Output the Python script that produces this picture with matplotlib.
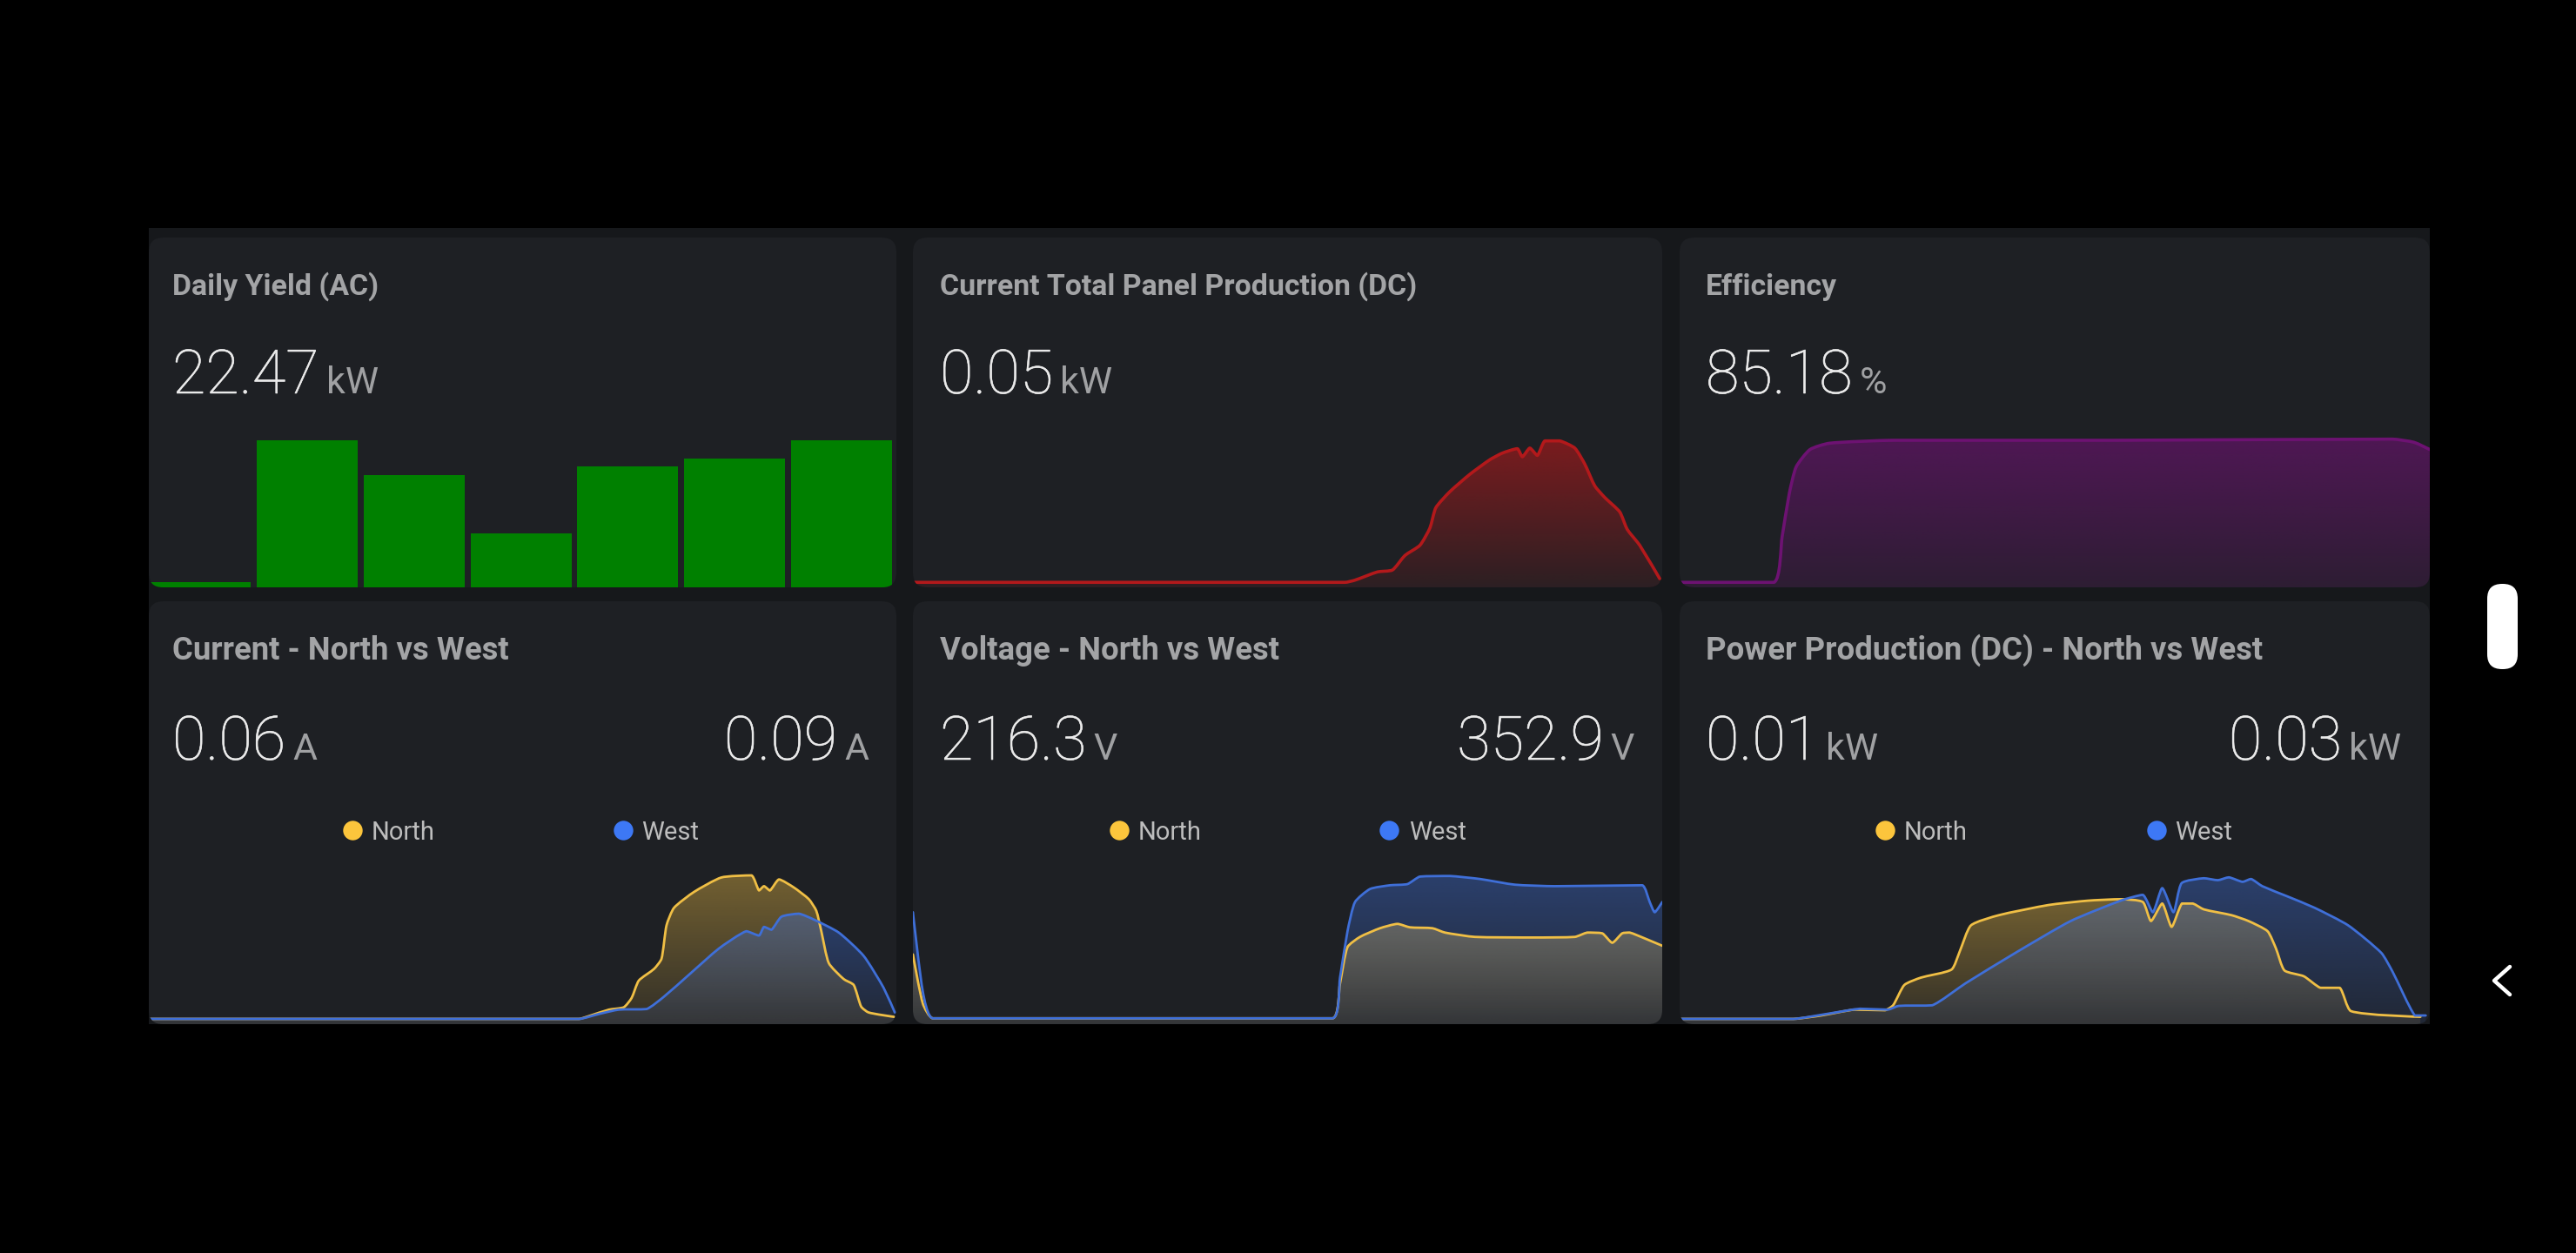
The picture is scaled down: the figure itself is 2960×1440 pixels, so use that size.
import matplotlib
matplotlib.use("Agg")
import matplotlib.pyplot as plt
import matplotlib.patheffects as pe
import numpy as np
from matplotlib.colors import to_rgb
from matplotlib.patches import FancyBboxPatch, PathPatch, Rectangle
from matplotlib.path import Path

plt.rcParams['font.family'] = ['Roboto', 'DejaVu Sans']

W, H = 2960, 1440

# daily yield, kWh per day
yield_days = [0, 1, 2, 3, 4, 5, 6]
yield_vals = [0.75, 22.47, 17.15, 8.29, 18.53, 19.72, 22.47]

# the rest: hour of the window, percent of the panel height
dc_h = [0, 13.84, 14.16, 14.88, 15.36, 15.76, 16.24, 16.56, 16.75, 17.2, 17.84, 18.48, 18.88, 19.36,
        19.52, 19.76, 20.0, 20.24, 20.72, 21.2, 21.52, 21.84, 22.16, 22.64, 22.88, 23.28, 23.92]
dc_v = [3.4, 3.4, 4.9, 10.5, 11.8, 21.7, 28.6, 40.4, 54.2, 65.1, 76.9, 86.8, 91.3, 94.3,
        88.8, 94.7, 89.7, 99.6, 99.6, 94.7, 83.8, 69.0, 61.1, 51.3, 39.4, 28.6, 5.9]

eff_h = [0, 3.02, 3.28, 3.51, 3.73, 4.17, 4.79, 6.83, 13.9, 22.8, 23.5, 24]
eff_v = [3.4, 3.4, 34.5, 64, 82, 93.7, 98, 100, 100, 100.8, 98.6, 93.7]

cur_n_h = [0, 13.81, 14.13, 14.77, 15.25, 15.5, 15.73, 16.22, 16.46, 16.62, 16.86, 17.5, 18.38, 19.35,
           19.59, 19.75, 19.94, 20.23, 20.71, 21.19, 21.43, 21.59, 21.83, 22.31, 22.63, 22.87, 23.11, 23.92]
cur_n_v = [3.5, 3.5, 5.4, 9.7, 11.3, 17.5, 29.1, 36.9, 43.7, 66, 77.7, 88.3, 98, 99.4,
           89.3, 92.2, 89.3, 96.7, 91.3, 83.5, 75.7, 62.1, 40.8, 30.1, 26.2, 11.7, 7.8, 4.9]
cur_w_h = [0, 13.81, 14.45, 15.09, 15.98, 16.54, 17.34, 18.3, 19.18, 19.59, 19.75, 19.99, 20.31, 20.87,
           21.35, 22.15, 22.95, 23.59, 23.95]
cur_w_v = [3.5, 3.5, 6.8, 9.7, 10.1, 18.4, 33, 50.5, 62.1, 59.2, 65, 63.1, 71.8, 73.8,
           69.9, 61.2, 45.6, 24.3, 7.8]

volt_n_h = [0, 0.32, 0.64, 13.44, 13.68, 13.92, 14.32, 14.96, 15.52, 15.92, 16.64, 17.04, 18, 19.92,
            21.2, 21.6, 22.08, 22.4, 22.72, 22.96, 23.44, 24]
volt_n_v = [46.6, 13.6, 3.9, 3.9, 27.2, 51.5, 58.3, 64.1, 67, 64.7, 64.1, 61.2, 58.3, 57.9,
            58.3, 61.2, 60.7, 54.4, 60.7, 61.2, 57.3, 52.4]
volt_w_h = [0, 0.32, 0.64, 13.44, 13.68, 13.92, 14.16, 14.64, 15.28, 15.84, 16.24, 17.2, 18.16, 19.28,
            20.56, 23.36, 23.6, 23.76, 24]
volt_w_v = [74.8, 21.4, 3.9, 3.9, 31.1, 62.1, 81.6, 90.3, 92.8, 93.6, 98.6, 99, 97, 93.2,
            92.2, 92.8, 81.6, 74.8, 81.6]

pow_n_h = [0, 3.64, 4.53, 5.59, 6.57, 6.83, 7.19, 7.72, 8.7, 8.96, 9.32, 10.21, 11.8, 13.05, 14.11,
           14.82, 15.08, 15.44, 15.74, 16.07, 16.42, 16.77, 17.66, 18.2, 18.81, 19.08, 19.35, 19.97,
           20.5, 21.12, 21.48, 23.7]
pow_n_v = [3.5, 3.5, 5.8, 9.7, 9.3, 12.6, 26.2, 31.1, 36.5, 48.5, 66, 72.8, 79.6, 82.5, 83.5,
           81.6, 68.9, 80.6, 65, 80.6, 80.6, 76.7, 72.8, 68.9, 62.1, 50.5, 35.9, 32,
           24.3, 24.3, 8.7, 4.9]
pow_w_h = [0, 3.64, 4.7, 5.77, 6.66, 7.01, 8.08, 9.14, 10.74, 12.51, 14.11, 14.82, 15.14, 15.44,
           15.8, 16.06, 16.77, 17.22, 17.57, 18.01, 18.28, 18.64, 19.44, 20.32, 21.39, 22.45, 22.81,
           23.52, 23.87]
pow_w_v = [3.5, 3.5, 6.8, 10.3, 9.7, 12.2, 12.6, 27.2, 47.6, 68.9, 82.5, 86.4, 74.8, 90.9,
           74.8, 94.2, 97.5, 96.2, 98.1, 95.1, 97, 92.2, 85.4, 77.7, 66, 47.6, 35,
           5.8, 5.8]

BG = '#000000'
PANEL = '#16181b'
CARD = '#1e2024'
TITLE = '#a3a4a6'
VALUE = '#eaeaea'
UNIT = '#a0a1a3'
GREEN = '#008000'
RED = '#b3191b'
PURPLE = '#6d1272'
NORTH = '#f0bf45'
WEST = '#3f6fd8'

COLS = [(171, 1030), (1049, 1910), (1930, 2792)]
ROWS = [(273, 675), (691, 1177)]
TOP_100 = [506, 1005]   # pixel height of the 100% level in each row

fig = plt.figure(figsize=(W / 100, H / 100), dpi=100, facecolor=BG)
back = fig.add_axes([0, 0, 1, 1], zorder=0)
front = fig.add_axes([0, 0, 1, 1], zorder=5)
for a in (back, front):
    a.set_xlim(0, W)
    a.set_ylim(H, 0)
    a.axis('off')
front.patch.set_alpha(0)

back.add_patch(Rectangle((171, 262), 2792 - 171, 1177 - 262, color=PANEL, lw=0))


def chart_axes(col, row, xlim, top):
    x0, x1 = COLS[col]
    y1 = ROWS[row][1]
    px_h = (y1 - TOP_100[row]) * 1.15
    ax = fig.add_axes([x0 / W, (H - y1) / H, (x1 - x0) / W, px_h / H], zorder=2)
    ax.set_xlim(*xlim)
    ax.set_ylim(0, top * 1.15)
    ax.axis('off')
    return ax


def curve(x, y, tension=0.2):
    # bezier through the read points, like the tension option of the original line charts
    p = np.column_stack([x, y])
    n = len(p)
    verts = [tuple(p[0])]
    codes = [Path.MOVETO]
    tang = np.zeros((n, 2))
    after = np.zeros(n)
    before = np.zeros(n)
    sc = np.array([21, 1])
    for i in range(1, n - 1):
        d0 = np.hypot(*((p[i] - p[i - 1]) * sc))
        d1 = np.hypot(*((p[i + 1] - p[i]) * sc))
        tang[i] = p[i + 1] - p[i - 1]
        before[i] = tension * d0 / (d0 + d1)
        after[i] = tension * d1 / (d0 + d1)
    for i in range(n - 1):
        lo, hi = sorted((p[i, 1], p[i + 1, 1]))
        c1 = p[i] + after[i] * tang[i]
        c2 = p[i + 1] - before[i + 1] * tang[i + 1]
        c1[1] = np.clip(c1[1], lo, hi)
        c2[1] = np.clip(c2[1], lo, hi)
        verts += [tuple(c1), tuple(c2), tuple(p[i + 1])]
        codes += [Path.CURVE4] * 3
    return verts, codes


def gradient_fill(ax, x, y, color, a_top, a_bot, z):
    n = 128
    img = np.zeros((n, 2, 4))
    img[..., :3] = to_rgb(color)
    img[..., 3] = np.linspace(a_top, a_bot, n)[:, None]
    xlim, ylim = ax.get_xlim(), ax.get_ylim()
    im = ax.imshow(img, extent=[min(x), max(x), 0, max(y)], aspect='auto', origin='upper', zorder=z)
    verts, codes = curve(x, y)
    verts = [(x[0], 0), (x[0], y[0])] + verts[1:] + [(x[-1], 0), (x[0], 0)]
    codes = [Path.MOVETO, Path.LINETO] + codes[1:] + [Path.LINETO, Path.CLOSEPOLY]
    im.set_clip_path(Path(verts, codes), ax.transData)
    ax.set_xlim(xlim)
    ax.set_ylim(ylim)


def series(ax, x, y, color, a_top=0.4, a_bot=0.1, z=2, lw=2.0):
    gradient_fill(ax, x, y, color, a_top, a_bot, z)
    verts, codes = curve(x, y)
    ax.add_patch(PathPatch(Path(verts, codes), fill=False, ec=color, lw=lw, zorder=z + 3,
                           joinstyle='round', capstyle='round'))


def value_left(x, y, val, unit):
    t = front.text(x, y, val, fontsize=50.5, color=VALUE, fontweight='light', ha='left', va='baseline',
                   path_effects=[pe.withStroke(linewidth=0.4, foreground=VALUE)])
    bb = t.get_window_extent(fig.canvas.get_renderer())
    front.text(bb.x1 + 8, y, unit, fontsize=31, color=UNIT, ha='left', va='baseline')


def value_right(x, y, val, unit):
    t = front.text(x, y, unit, fontsize=31, color=UNIT, ha='right', va='baseline')
    bb = t.get_window_extent(fig.canvas.get_renderer())
    front.text(bb.x0 - 8, y, val, fontsize=50.5, color=VALUE, fontweight='light', ha='right', va='baseline',
               path_effects=[pe.withStroke(linewidth=0.4, foreground=VALUE)])


def legend_row(xn, xn_t, xw, xw_t):
    front.scatter([xn], [954], s=260, color='#fcc53c', lw=0)
    front.scatter([xw], [954], s=260, color='#3d78f5', lw=0)
    front.text(xn_t, 965, 'North', fontsize=21, color='#bdbdbd', va='baseline')
    front.text(xw_t, 965, 'West', fontsize=21, color='#bdbdbd', va='baseline')


# cards, and a mask on top that rounds the corners of the charts
for (x0, x1) in COLS:
    for (y0, y1) in ROWS:
        box = dict(boxstyle='round,pad=0,rounding_size=16')
        back.add_patch(FancyBboxPatch((x0, y0), x1 - x0, y1 - y0, fc=CARD, ec='none', **box))
        card = FancyBboxPatch((x0, y0), x1 - x0, y1 - y0, **box)
        inner = card.get_path().to_polygons()[0][::-1]
        outer = [(x0, y0), (x1, y0), (x1, y1), (x0, y1), (x0, y0)]
        ring = Path.make_compound_path(Path(outer, closed=True), Path(inner, closed=True))
        front.add_patch(PathPatch(ring, fc=PANEL, ec='none', zorder=1))

# charts
ax = chart_axes(0, 0, (-0.485, 6.515), 22.47)
ax.bar(yield_days, yield_vals, width=0.945, color=GREEN, lw=0)

ax = chart_axes(1, 0, (0, 24), 100)
series(ax, dc_h, dc_v, RED, 0.62, 0.1, lw=2.6)

ax = chart_axes(2, 0, (0, 24), 100)
series(ax, eff_h, eff_v, PURPLE, 0.62, 0.2, lw=2.6)

ax = chart_axes(0, 1, (0, 24), 100)
series(ax, cur_n_h, cur_n_v, NORTH, z=2)
series(ax, cur_w_h, cur_w_v, WEST, z=3)

ax = chart_axes(1, 1, (0, 24), 100)
series(ax, volt_n_h, volt_n_v, NORTH, z=2)
series(ax, volt_w_h, volt_w_v, WEST, z=3)

ax = chart_axes(2, 1, (0, 24), 100)
series(ax, pow_n_h, pow_n_v, NORTH, z=2)
series(ax, pow_w_h, pow_w_v, WEST, z=3)

# text
titles = ['Daily Yield (AC)', 'Current Total Panel Production (DC)', 'Efficiency',
          'Current - North vs West', 'Voltage - North vs West', 'Power Production (DC) - North vs West']
text_x = [198, 1080, 1960]
for i, title in enumerate(titles):
    front.text(text_x[i % 3], 339 if i < 3 else 758, title, fontsize=24.4 if i < 3 else 26.3, color=TITLE,
               fontweight='bold', va='baseline')

value_left(198, 452, '22.47', 'kW')
value_left(1080, 452, '0.05', 'kW')
value_left(1960, 452, '85.18', '%')
value_left(198, 873, '0.06', 'A')
value_right(998, 873, '0.09', 'A')
value_left(1080, 873, '216.3', 'V')
value_right(1878, 873, '352.9', 'V')
value_left(1960, 873, '0.01', 'kW')
value_right(2759, 873, '0.03', 'kW')

legend_row(405, 427, 716, 737)
legend_row(1286, 1308, 1596, 1619)
legend_row(2166, 2188, 2478, 2499)

# side controls of the screenshot
front.add_patch(FancyBboxPatch((2858, 671), 35, 98, boxstyle='round,pad=0,rounding_size=17', fc='white', ec='none'))
front.plot([2884, 2866, 2884], [1111, 1127, 1143], color='white', lw=3.2, solid_capstyle='round')

fig.savefig('out.png', dpi=100, facecolor=BG)
